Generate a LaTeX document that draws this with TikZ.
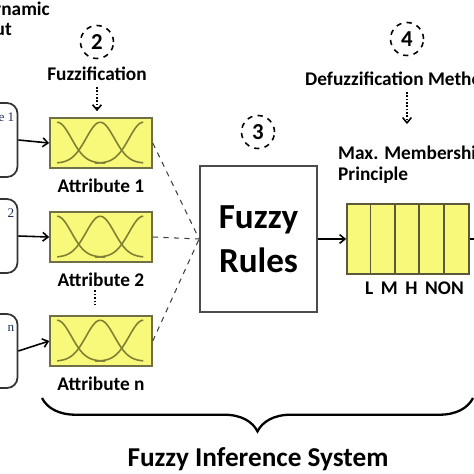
\documentclass[tikz,border=0pt]{standalone}
\usepackage{fontspec}
\setmainfont{Carlito}
\newfontfamily\inputfont{Liberation Serif}
\usetikzlibrary{arrows.meta,decorations.pathreplacing}
\definecolor{mfyellow}{RGB}{248,248,122}
\definecolor{mfedge}{RGB}{112,112,72}
\definecolor{mfcurve}{RGB}{128,128,52}
\definecolor{inblue}{RGB}{30,45,90}
\begin{document}
\begin{tikzpicture}[x=0.02cm,y=-0.02cm,>={Straight Barb[length=3pt,width=5pt]},
every node/.style={font=\bfseries\fontsize{11}{12}\selectfont},
inbox/.style={draw=black!80,line width=1pt,rounded corners=6pt,minimum width=1.54cm,minimum height=1.48cm},
intext/.style={font=\inputfont\fontsize{7.5}{7.5}\selectfont,text=inblue,anchor=east,inner sep=1pt},
mfbox/.style={draw=mfedge,fill=mfyellow,line width=0.9pt,minimum width=2.04cm,minimum height=1cm,inner sep=0},
mfline/.style={mfcurve,line width=0.9pt},
attlabel/.style={label distance=2.5pt},
numcirc/.style={circle,draw,dashed,line width=0.9pt,minimum size=0.66cm,inner sep=0,font=\bfseries\fontsize{13}{13}\selectfont},
dotarrow/.style={densely dotted,->,line width=0.9pt},
dashline/.style={dashed,black!75,line width=0.6pt},
brace/.style={decorate,decoration={brace,amplitude=19pt},line width=1.3pt}]

\useasboundingbox (0,0) rectangle (474,474);
\clip (0,0) rectangle (474,474);

% dynamic input (cut at the left)
\node[anchor=east] (dyn) at (56,10) {Dynamic};
\node[anchor=east] (inp) at (18,31) {Input};

% step 2
\node[numcirc] (c2) at (97,42) {2};
\node (fuzz) at (97,74) {Fuzzification};

% step 3
\node[numcirc] (c3) at (258,132) {3};
\node[draw=black!70,line width=1pt,minimum width=2.34cm,minimum height=2.92cm,align=center,
  font=\bfseries\fontsize{20}{25}\selectfont] (rules) at (258.5,239) {Fuzzy\\Rules};

% inputs and membership functions
\foreach \n/\yc/\ic/\txt in {1/143/140/e 1,2/237/236/2,n/341/351/n}{
  \node[inbox] (in\n) at (-21,\ic) {};
  \node[intext] (t\n) at ([xshift=-0.04cm,yshift=-0.3cm]in\n.north east) {\txt};
  \node[mfbox,label={[attlabel]below:Attribute \n}] (att\n) at (101,\yc) {};
  \begin{scope}[shift={(att\n.north west)}]
    \draw[mfline] plot[domain=8:56,samples=30] (\x,{46-41*exp(-((\x-8)/20)^2)});
    \draw[mfline] plot[domain=8:94,samples=50] (\x,{46-41*exp(-((\x-51)/20)^2)});
    \draw[mfline] plot[domain=46:94,samples=30] (\x,{46-41*exp(-((\x-94)/20)^2)});
  \end{scope}
  \draw[->,line width=0.9pt] (in\n.east) -- (att\n.west);
  \draw[dashline] (att\n.east) -- (rules.west);
}
\draw[dotarrow] (fuzz.south) -- ([yshift=0.12cm]fuzz.south |- att1.north);
\draw[densely dotted,line width=1pt] (95,290) -- (95,305);

% step 4
\node[numcirc] (c4) at (407,39) {4};
\node[anchor=west] (defuz) at (299,79) {Defuzzification Method};
\node[anchor=north west,align=left] (maxmem) at (332,140) {Max. Membership\\Principle};
\draw[dotarrow] (defuz.south -| c4) -- ++(0,32);

% output classes
\node[draw=mfedge!80!black,fill=mfyellow,line width=1pt,minimum width=2.44cm,minimum height=1.4cm,inner sep=0] (bar) at (408,239) {};
\foreach \k in {1,...,4}
  \draw[mfedge!80!black,line width=1pt] (bar.north west) ++(\k*24.4,0) -- ++(0,70);
\node (cls) at (414.5,288) {L\,~M\,~H\,~NON};
\draw[->,line width=0.9pt] (rules.east) -- (bar.west);
\coordinate (out) at (480,239);
\draw[line width=0.9pt] (bar.east) -- (out);

% the whole system
\draw[brace] (473,398) -- (42,398);
\node[font=\bfseries\fontsize{15.5}{15.5}\selectfont] (fis) at (258,459) {Fuzzy Inference System};

\end{tikzpicture}
\end{document}
